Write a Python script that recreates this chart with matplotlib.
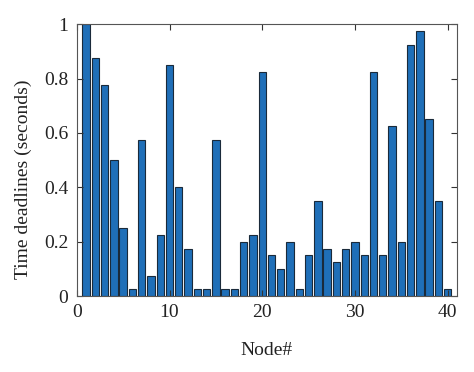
import matplotlib
matplotlib.use("Agg")
import matplotlib.pyplot as plt

nodes = list(range(1, 41))
deadlines = [1.0, 0.875, 0.775, 0.5, 0.25, 0.025, 0.575, 0.075, 0.225, 0.85,
             0.4, 0.175, 0.025, 0.025, 0.575, 0.025, 0.025, 0.2, 0.225, 0.825,
             0.15, 0.1, 0.2, 0.025, 0.15, 0.35, 0.175, 0.125, 0.175, 0.2,
             0.15, 0.825, 0.15, 0.625, 0.2, 0.925, 0.975, 0.65, 0.35, 0.025]
xticks = [0, 10, 20, 30, 40]
yticks = [0, 0.2, 0.4, 0.6, 0.8, 1]
yticklabels = ["0", "0.2", "0.4", "0.6", "0.8", "1"]

plt.rcParams["font.family"] = ["Liberation Serif", "DejaVu Serif"]

fig = plt.figure(figsize=(4.74, 3.72), dpi=100)
ax = fig.add_axes([0.162, 0.204, 0.802, 0.731])
ax.bar(nodes, deadlines, width=0.8, color="#1f6fb8", edgecolor="#1a2a3a", linewidth=0.8)
ax.set_xlim(0, 41)
ax.set_ylim(0, 1)
ax.set_xticks(xticks)
ax.set_yticks(yticks)
ax.set_yticklabels(yticklabels)
ax.tick_params(direction="in", top=True, right=True, labelsize=14, length=4,
               color="#333333", pad=6, labelcolor="#222222")
for s in ax.spines.values():
    s.set_color("#555555")
    s.set_linewidth(0.8)
ax.set_xlabel("Node#", fontsize=14, labelpad=15, color="#222222")
ax.set_ylabel("Time deadlines (seconds)", fontsize=14, color="#222222")
ax.yaxis.set_label_coords(-0.118, 0.43)
fig.savefig("out.png", dpi=100)
